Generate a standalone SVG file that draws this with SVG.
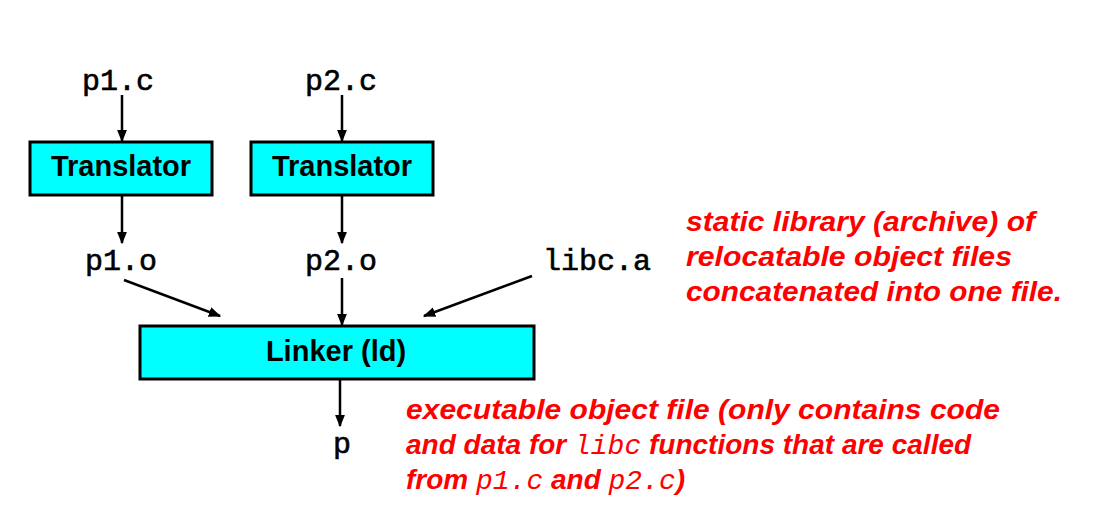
<svg xmlns="http://www.w3.org/2000/svg" width="1094" height="506" viewBox="0 0 1094 506">
<style>
.box{fill:#00ffff;stroke:#000;stroke-width:3}
.bt{font-family:"Liberation Sans",Arial,sans-serif;font-weight:bold;font-size:29px;text-anchor:middle}
.mono{font-family:"Liberation Mono","Courier New",monospace;font-size:30px;text-anchor:middle;stroke:#000;stroke-width:0.6}
.red{font-family:"Liberation Sans",Arial,sans-serif;font-weight:bold;font-style:italic;font-size:28px;fill:#ff0000}
.rm{font-family:"Liberation Mono","Courier New",monospace;font-style:italic;font-weight:normal}
.c line{stroke:#000;stroke-width:2.5;marker-end:url(#a)}
</style>
<defs><marker id="a" viewBox="0 0 10 10" refX="9" refY="5" markerWidth="5" markerHeight="5" orient="auto" markerUnits="strokeWidth"><path d="M0,1 L10,5 L0,9 z" fill="#000"/></marker></defs>
<rect width="1094" height="506" fill="#fff"/>
<g class="c">
<line x1="122" y1="95" x2="122" y2="141"/>
<line x1="342" y1="95" x2="342" y2="141"/>
<line x1="122" y1="196" x2="122" y2="243"/>
<line x1="342" y1="196" x2="342" y2="243"/>
<line x1="124" y1="280" x2="220" y2="316"/>
<line x1="342" y1="278" x2="342" y2="325"/>
<line x1="532" y1="276" x2="424" y2="316"/>
<line x1="340" y1="380" x2="340" y2="426"/>
</g>
<g id="p1c"><text class="mono" x="118" y="90">p1.c</text></g>
<g id="p2c"><text class="mono" x="341" y="90">p2.c</text></g>
<g id="t1"><rect class="box" x="30" y="142" width="182" height="53"/><text class="bt" x="121" y="176">Translator</text></g>
<g id="t2"><rect class="box" x="251" y="142" width="182" height="53"/><text class="bt" x="342" y="176">Translator</text></g>
<g id="p1o"><text class="mono" x="121" y="270">p1.o</text></g>
<g id="p2o"><text class="mono" x="341" y="270">p2.o</text></g>
<g id="libc"><text class="mono" x="597" y="270">libc.a</text></g>
<g id="linker"><rect class="box" x="140" y="326" width="394" height="53"/><text class="bt" x="336" y="361">Linker (ld)</text></g>
<g id="p"><text class="mono" x="342" y="453">p</text></g>
<g id="note1">
<text class="red" x="686" y="231" textLength="349" lengthAdjust="spacingAndGlyphs">static library (archive) of</text>
<text class="red" x="686" y="266" textLength="326" lengthAdjust="spacingAndGlyphs">relocatable object files</text>
<text class="red" x="686" y="301" textLength="376" lengthAdjust="spacingAndGlyphs">concatenated into one file.</text>
</g>
<g id="note2">
<text class="red" x="406" y="419" textLength="594" lengthAdjust="spacingAndGlyphs">executable object file (only contains code</text>
<text class="red" x="406" y="454">and data for  <tspan class="rm">libc</tspan> functions that are called</text>
<text class="red" x="406" y="489">from <tspan class="rm">p1.c</tspan> and <tspan class="rm">p2.c</tspan>)</text>
</g>
</svg>
